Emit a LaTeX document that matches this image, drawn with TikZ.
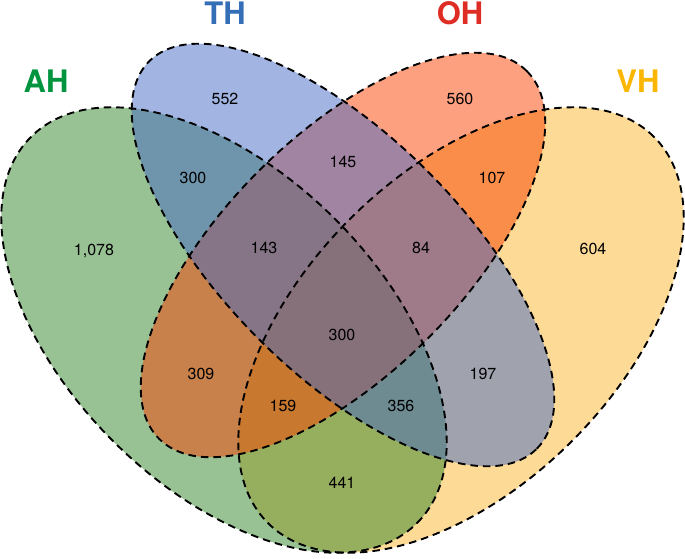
\documentclass[tikz,border=0pt]{standalone}
\usepackage{fontspec}
\setmainfont{TeX Gyre Heros}
\definecolor{cA}{RGB}{49,133,41}
\definecolor{cT}{RGB}{69,105,197}
\definecolor{cO}{RGB}{249,65,1}
\definecolor{cV}{RGB}{251,183,45}
\definecolor{lA}{RGB}{0,148,62}
\definecolor{lT}{RGB}{52,110,182}
\definecolor{lO}{RGB}{222,45,36}
\definecolor{lV}{RGB}{250,182,0}
\begin{document}
\begin{tikzpicture}[x=1pt,y=1pt,
  setfill/.style={fill=#1, fill opacity=0.5},
  outline/.style={draw=black, line width=1.9pt, dash pattern=on 7.5pt off 5pt},
  num/.style={font=\fontsize{16}{18}\selectfont, anchor=base, inner sep=0pt},
  setlabel/.style={font=\fontsize{31}{34}\selectfont\bfseries, anchor=base, inner sep=0pt}]
\useasboundingbox (0,0) rectangle (685,559);
% fills (bottom to top: VH, AH, OH, TH)
\fill[setfill=cV, rotate around={45:(461,229)}] (461,229) ellipse [x radius=273, y radius=157];
\fill[setfill=cA, rotate around={-45:(224,229)}] (224,229) ellipse [x radius=273, y radius=157];
\fill[setfill=cO, rotate around={45:(343,304)}] (343,304) ellipse [x radius=260, y radius=119];
\fill[setfill=cT, rotate around={-45:(343,304)}] (343,304) ellipse [x radius=274, y radius=119];
% outlines
\draw[outline, rotate around={45:(461,229)}] (461,229) ellipse [x radius=273, y radius=157];
\draw[outline, rotate around={-45:(224,229)}] (224,229) ellipse [x radius=273, y radius=157];
\draw[outline, rotate around={45:(343,304)}] (343,304) ellipse [x radius=260, y radius=119];
\draw[outline, rotate around={-45:(343,304)}] (343,304) ellipse [x radius=274, y radius=119];
% set labels
\node[setlabel, text=lA] (labAH) at (46,466) {AH};
\node[setlabel, text=lT] (labTH) at (225,534) {TH};
\node[setlabel, text=lO] (labOH) at (460,534) {OH};
\node[setlabel, text=lV] (labVH) at (638,466) {VH};
% counts
\node[num] (n552) at (225,454) {552};
\node[num] (n560) at (460,454) {560};
\node[num] (n300a) at (193,375) {300};
\node[num] (n145) at (343,391) {145};
\node[num] (n107) at (492,375) {107};
\node[num] (n1078) at (94,303) {1,078};
\node[num] (n143) at (264,305) {143};
\node[num] (n84) at (421,305) {84};
\node[num] (n604) at (593,304) {604};
\node[num] (n300b) at (342,218) {300};
\node[num] (n309) at (201,179) {309};
\node[num] (n197) at (483,179) {197};
\node[num] (n159) at (283,147) {159};
\node[num] (n356) at (401,147) {356};
\node[num] (n441) at (342,70) {441};
\end{tikzpicture}
\end{document}
